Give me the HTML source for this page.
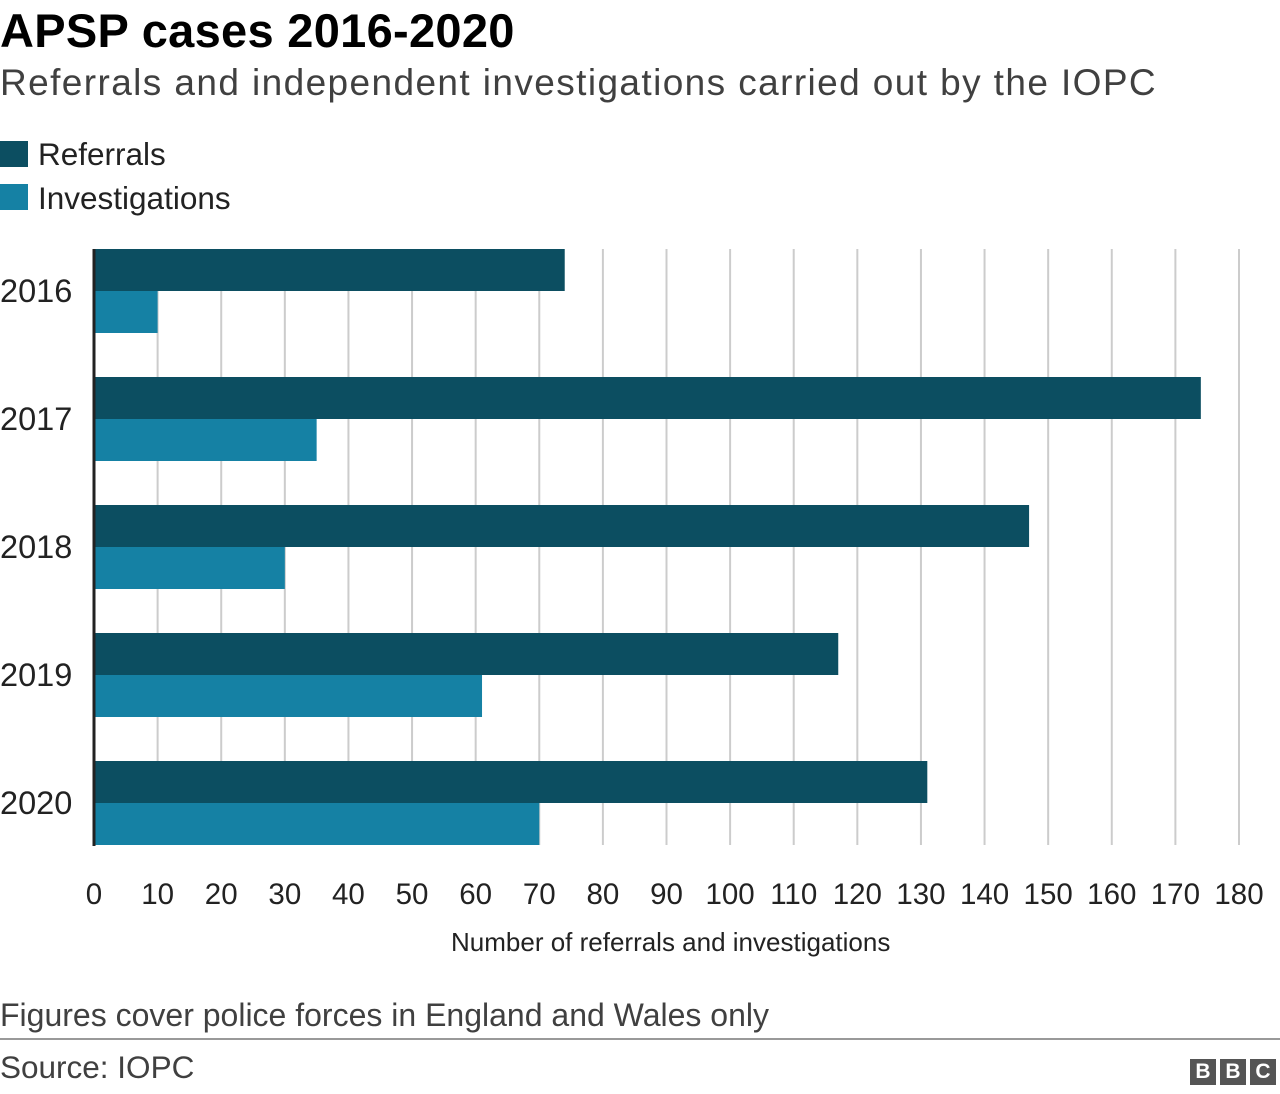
<!DOCTYPE html>
<html><head><meta charset="utf-8"><style>
body{margin:0;width:1280px;height:1094px;background:#fff;font-family:"Liberation Sans",Arial,sans-serif;overflow:hidden;position:relative}
.t{position:absolute;white-space:nowrap}
</style></head><body>
<div class="t" style="left:0;top:3px;font-size:47px;font-weight:bold;color:#000;letter-spacing:0.3px">APSP cases 2016-2020</div>
<div class="t" style="left:0;top:62px;font-size:37px;color:#404040;letter-spacing:1.4px">Referrals and independent investigations carried out by the IOPC</div>
<div>
<div class="t" style="left:0;top:141px;width:28px;height:26px;background:#0c4e61"></div>
<div class="t" style="left:38px;top:136px;font-size:31.5px;color:#222">Referrals</div>
<div class="t" style="left:0;top:184px;width:28px;height:26px;background:#1581a4"></div>
<div class="t" style="left:38px;top:180px;font-size:31.5px;color:#222">Investigations</div>
</div>
<svg id="chart" width="1280" height="1094" style="position:absolute;left:0;top:0"></svg>
<div class="t" style="left:451px;top:927px;font-size:26px;color:#222">Number of referrals and investigations</div>
<div class="t" style="left:0;top:997px;font-size:32px;color:#404040">Figures cover police forces in England and Wales only</div>
<div class="t" style="left:0;top:1038px;width:1280px;height:2px;background:#999"></div>
<div class="t" style="left:0;top:1049px;font-size:31.5px;color:#404040">Source: IOPC</div>
<div class="t" style="left:1190px;top:1059px;display:flex;gap:4px">
<span style="width:26px;height:26px;background:#555;color:#fff;font-weight:bold;font-size:21px;text-align:center;line-height:26px">B</span>
<span style="width:26px;height:26px;background:#555;color:#fff;font-weight:bold;font-size:21px;text-align:center;line-height:26px">B</span>
<span style="width:26px;height:26px;background:#555;color:#fff;font-weight:bold;font-size:21px;text-align:center;line-height:26px">C</span>
</div>
<script>
const categories=["2016","2017","2018","2019","2020"];
const referrals=[74,174,147,117,131];
const investigations=[10,35,30,61,70];
const ticks=[0,10,20,30,40,50,60,70,80,90,100,110,120,130,140,150,160,170,180];
const svg=document.getElementById('chart');
const NS='http://www.w3.org/2000/svg';
const x0=94,x1=1239,xmax=180,top0=249,groupH=128,barH=42;
const xs=v=>x0+(x1-x0)*v/xmax;
function mk(tag,attrs){const e=document.createElementNS(NS,tag);for(const k in attrs)e.setAttribute(k,attrs[k]);svg.appendChild(e);return e;}
ticks.forEach(t=>{
  if(t>0){const g=mk('line',{x1:xs(t),x2:xs(t),y1:top0,y2:845,stroke:'#ccc','stroke-width':2});
  
  }
  const l=mk('text',{x:xs(t),y:904,'text-anchor':'middle','font-size':29.5,fill:'#222','font-family':'Liberation Sans,Arial,sans-serif'});
  l.textContent=t;
  
  
});
categories.forEach((c,i)=>{
  const y=top0+i*groupH;
  const r=mk('rect',{x:x0,y:y,width:xs(referrals[i])-x0,height:barH,fill:'#0c4e61'});
  
  
  const b=mk('rect',{x:x0,y:y+barH,width:xs(investigations[i])-x0,height:barH,fill:'#1581a4'});
  
  
  const l=mk('text',{x:0,y:y+barH+11,'font-size':32.5,fill:'#222','font-family':'Liberation Sans,Arial,sans-serif'});
  l.textContent=c;
  
  
});
const ax=mk('line',{x1:x0,x2:x0,y1:top0,y2:846,stroke:'#222','stroke-width':3});


</script>
</body></html>
